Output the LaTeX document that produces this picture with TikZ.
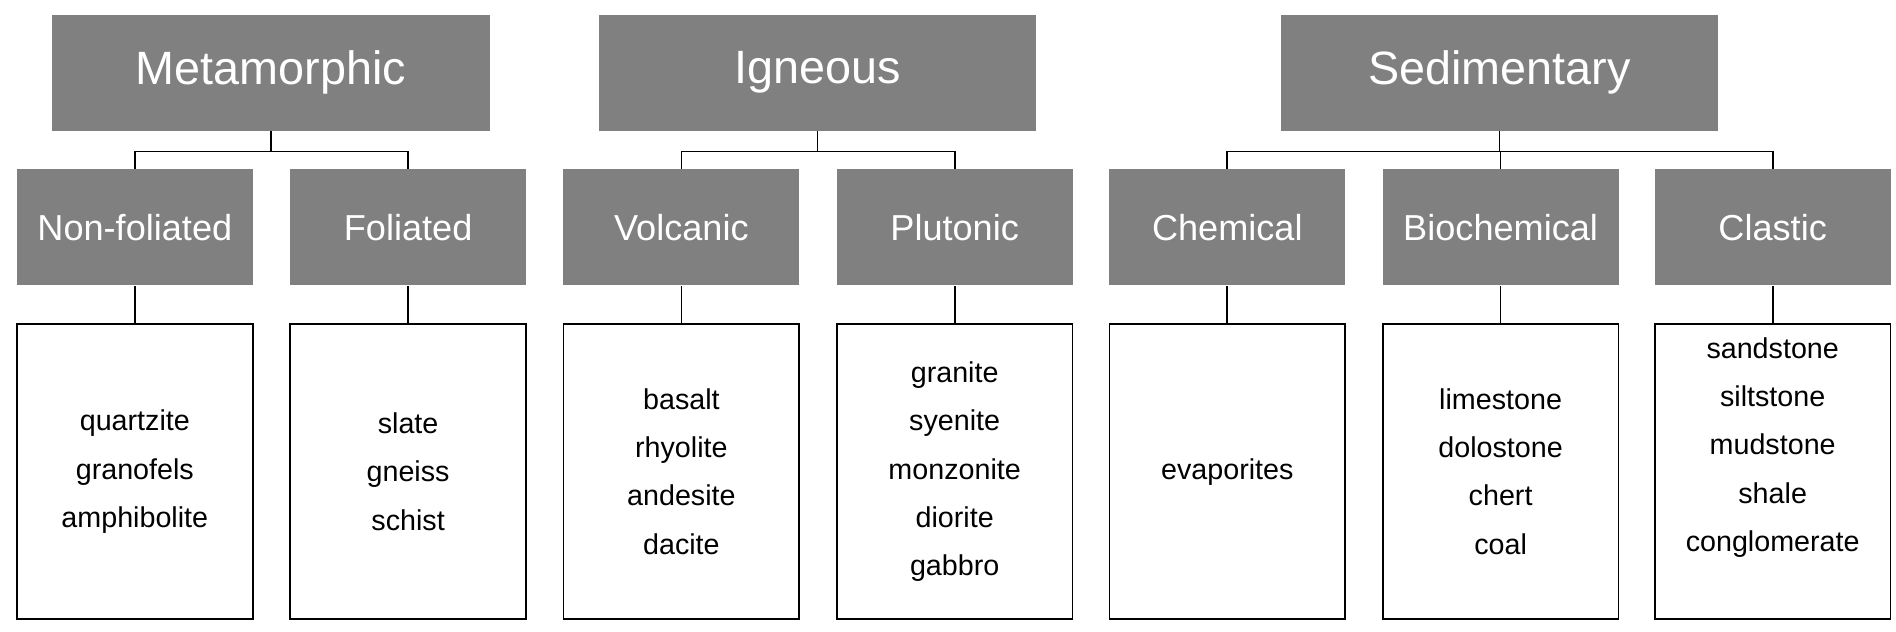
\documentclass[tikz,border=0pt]{standalone}
\usepackage{fontspec}
\setmainfont{Liberation Sans}
\begin{document}
\begin{tikzpicture}
\tikzset{
 top/.style={fill=gray!100!white,fill=black!50,text=white,minimum width=7.24cm,minimum height=1.92cm,inner sep=0pt,font=\fontsize{22}{26}\selectfont},
 sub/.style={fill=black!50,text=white,minimum width=3.9cm,minimum height=1.92cm,inner sep=0pt,font=\fontsize{17}{20}\selectfont},
 leaf/.style={draw=black,line width=0.8pt,minimum width=3.9cm,minimum height=4.88cm,inner sep=0pt,align=center,font=\fontsize{13.5}{22.7}\selectfont},
 con/.style={draw=black,line width=0.8pt}
}
\useasboundingbox (0,0) rectangle (31.36,-10.44);
\node[top] (meta) at (4.48,-1.2) {Metamorphic};
\node[top] (ign) at (13.52,-1.2) {Igneous};
\node[top] (sed) at (24.8,-1.2) {Sedimentary};
\node[sub] (nf) at (2.23,-3.76) {Non-foliated};
\node[sub] (fo) at (6.75,-3.76) {Foliated};
\node[sub] (vo) at (11.27,-3.76) {Volcanic};
\node[sub] (pl) at (15.79,-3.76) {Plutonic};
\node[sub] (ch) at (20.3,-3.76) {Chemical};
\node[sub] (bi) at (24.82,-3.76) {Biochemical};
\node[sub] (cl) at (29.32,-3.76) {Clastic};
\node[leaf] (lnf) at (2.23,-7.8) {quartzite\\granofels\\amphibolite};
\node[leaf] (lfo) at (6.75,-7.8) {slate\\gneiss\\schist};
\node[leaf] (lvo) at (11.27,-7.8) {basalt\\rhyolite\\andesite\\dacite};
\node[leaf] (lpl) at (15.79,-7.8) {granite\\syenite\\monzonite\\diorite\\gabbro};
\node[leaf] (lch) at (20.3,-7.8) {evaporites};
\node[leaf] (lbi) at (24.82,-7.8) {limestone\\dolostone\\chert\\coal};
\node[leaf] (lcl) at (29.32,-7.8) {};
\node[align=center,font=\fontsize{13.5}{22.7}\selectfont] (tcl) at (29.32,-7.4) {sandstone\\siltstone\\mudstone\\shale\\conglomerate};
\foreach \p/\c in {meta/nf,meta/fo,ign/vo,ign/pl,sed/ch,sed/bi,sed/cl}
  \draw[con] (\p.south) -- ++(0,-0.34) -| (\c.north);
\foreach \a/\b in {nf/lnf,fo/lfo,vo/lvo,pl/lpl,ch/lch,bi/lbi,cl/lcl}
  \draw[con] (\a.south) -- (\b.north);
\end{tikzpicture}
\end{document}
